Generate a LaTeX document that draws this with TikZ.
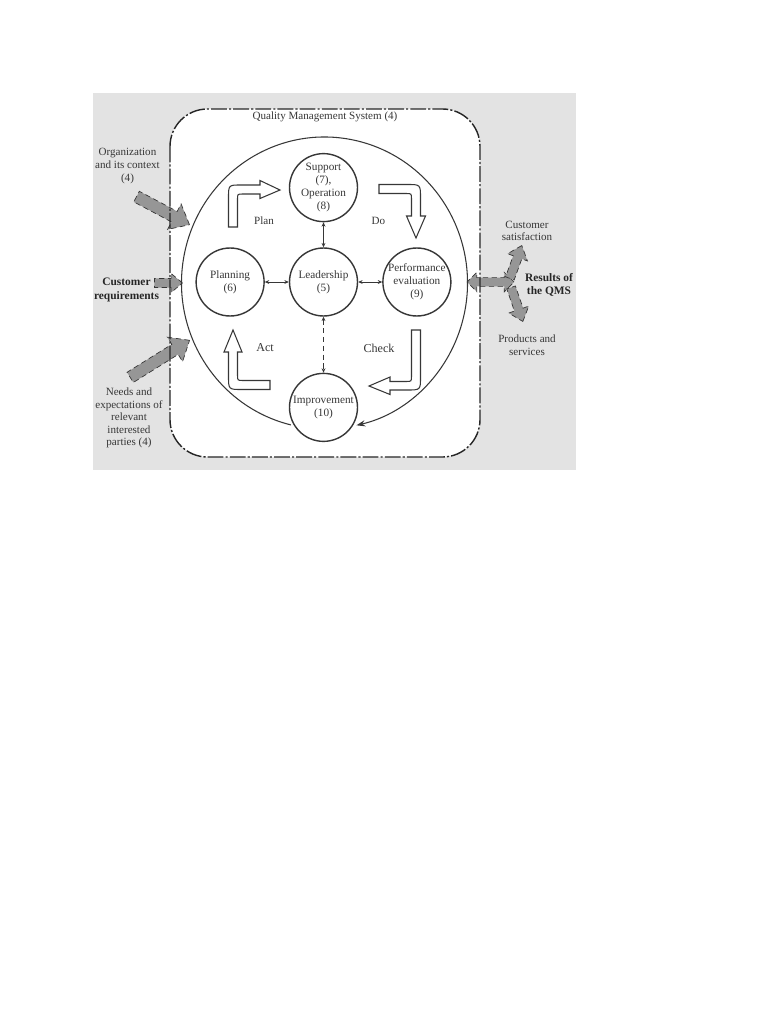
\documentclass[tikz,border=0pt]{standalone}
\usepackage{fontspec}
\setmainfont{Liberation Serif}
\usepackage{tikz}
\usetikzlibrary{positioning, arrows.meta, shapes.arrows}

\definecolor{bgGray}{RGB}{227,227,227}
\definecolor{flowGray}{RGB}{150,150,150}
\definecolor{ink}{RGB}{55,55,55}

\tikzset{
    phase/.style={circle, draw=ink, thick, fill=white, minimum size=1.36cm, inner sep=-3pt, align=center, text=ink, font=\fontsize{6.4}{7.3}\selectfont},
    link/.style={{Stealth[length=2.5pt, width=2.2pt]}-{Stealth[length=2.5pt, width=2.2pt]}, draw=ink, thin},
    turn/.style={draw=ink, semithick, fill=white},
    flowIn/.style={single arrow, draw=ink, densely dashed, thin, fill=flowGray, inner sep=3.2pt, single arrow head extend=4.8pt, single arrow tip angle=80, anchor=tip},
    flowOut/.style={double arrow, draw=ink, densely dashed, thin, fill=flowGray, inner sep=2.3pt, double arrow head extend=3pt, double arrow tip angle=90},
    note/.style={align=center, text=ink, inner sep=0pt, font=\fontsize{6.3}{7.2}\selectfont},
    noteBold/.style={align=center, text=black!85, inner sep=0pt, font=\fontsize{6.5}{7.6}\selectfont\bfseries},
    phaseLabel/.style={align=center, text=ink, inner sep=0pt, font=\fontsize{6.9}{8}\selectfont},
    qms/.style={rounded corners=0.75cm},
    qmsBorder/.style={draw=black!85, thick, dash pattern=on 9pt off 1.2pt on 1.2pt off 1.2pt}
}

\begin{document}
\begin{tikzpicture}[x=0.02cm, y=-0.02cm]
    \useasboundingbox (0,0) rectangle (768,1024);

    % Background
    \fill[bgGray] (93,93) rectangle (576,470);
    \fill[white, qms] (170,109) rectangle (480,457);

    % Inputs and results
    \node[flowIn, minimum height=1.2cm, rotate=-28] (ctx) at (190,225) {};
    \node[flowIn, minimum height=0.56cm, inner sep=2.4pt, single arrow head extend=2.8pt] (req) at (183,283) {};
    \node[flowIn, minimum height=1.4cm, rotate=32] (needs) at (190,340) {};
    \node[flowOut, minimum height=0.94cm] (res) at (490.5,282) {};
    \node[flowIn, minimum height=0.7cm, inner sep=2.4pt, single arrow head extend=3.4pt, rotate=70] (sat) at (522,245) {};
    \node[flowIn, minimum height=0.72cm, inner sep=2.4pt, single arrow head extend=3.4pt, rotate=-71] (prod) at (523,322) {};

    % QMS frame
    \draw[qmsBorder, qms] (170,109) rectangle (480,457);
    \node[note] (title) at (325,117) {Quality Management System (4)};

    % Cycle
    \draw[ink, semithick, -{Stealth[length=5pt, width=3.5pt]}] (324.5,283) ++(103.6:143 and 146)
        arc[start angle=103.6, end angle=437.1, x radius=143, y radius=146];

    % Phases
    \node[phase] (lead) at (323.5,282) {Leadership\\(5)};
    \node[phase, left=0.48cm of lead] (plan) {Planning\\(6)};
    \node[phase, right=0.48cm of lead] (perf) {Performance\\evaluation\\(9)};
    \node[phase, above=0.5cm of lead] (supp) {Support\\(7),\\Operation\\(8)};
    \node[phase, below=1.12cm of lead] (impr) {Improvement\\(10)};

    % Links
    \draw[link] (plan) -- (lead);
    \draw[link] (lead) -- (perf);
    \draw[link] (supp) -- (lead);
    \draw[link, densely dashed] (lead) -- (impr);

    % Turning arrows
    \draw[turn] (228.5,227) -- (228.5,198) .. controls (228.5,185) .. (241,185) -- (260,185) -- (260,180.5)
        -- (280,190) -- (260,198.5) -- (260,194) -- (243,194) .. controls (237.5,194) .. (237.5,199) -- (237.5,227) -- cycle;
    \draw[turn] (379,184.5) -- (407,184.5) .. controls (420.5,184.5) .. (420.5,198) -- (420.5,216) -- (425.5,216)
        -- (416,238) -- (406.5,216) -- (411.5,216) -- (411.5,199) .. controls (411.5,193.5) .. (406,193.5) -- (379,193.5) -- cycle;
    \draw[turn] (411.5,330) -- (420.5,330) -- (420.5,377) .. controls (420.5,390) .. (407,390) -- (390,390) -- (390,394.5)
        -- (369,386) -- (390,377) -- (390,381.5) -- (406,381.5) .. controls (411.5,381.5) .. (411.5,376) -- cycle;
    \draw[turn] (270,380.5) -- (243,380.5) .. controls (237.5,380.5) .. (237.5,375) -- (237.5,352) -- (242,352)
        -- (233,330) -- (224,352) -- (228.5,352) -- (228.5,376) .. controls (228.5,389.5) .. (242,389.5) -- (270,389.5) -- cycle;

    % Phase labels
    \node[note] (planL) at (264,221) {Plan};
    \node[note] (doL) at (378.5,221) {Do};
    \node[phaseLabel] (actL) at (265,348) {Act};
    \node[phaseLabel] (checkL) at (379,348) {Check};

    % Outside texts
    \node[note] (ctxT) at (127.5,166) {Organization\\and its context\\(4)};
    \node[noteBold] (reqT) at (126.5,290) {Customer\\requirements};
    \node[note] (needsT) at (129,418) {Needs and\\expectations of\\relevant\\interested\\parties (4)};
    \node[note] (satT) at (527,231) {Customer\\satisfaction};
    \node[noteBold] (resT) at (549,285) {Results of\\the QMS};
    \node[note] (prodT) at (527,345) {Products and\\services};
\end{tikzpicture}
\end{document}
